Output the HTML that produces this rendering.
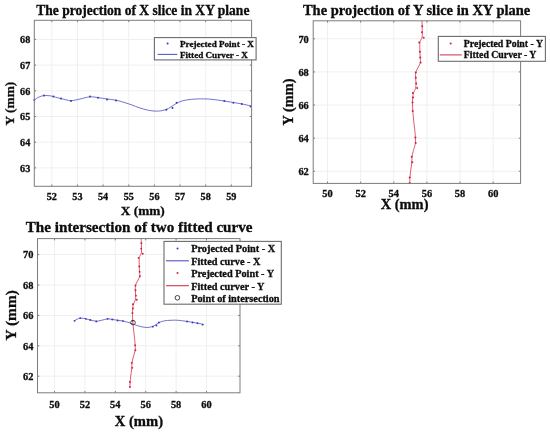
<!DOCTYPE html>
<html><head><meta charset="utf-8"><title>Curve projections</title>
<style>html,body{margin:0;padding:0;background:#fff;overflow:hidden}svg{display:block}text{font-family:'Liberation Serif','Times New Roman',serif;font-weight:bold;fill:#0c0c0c;stroke:#0c0c0c;stroke-width:0.3px;paint-order:stroke}</style>
</head><body>
<svg width="550" height="433" viewBox="0 0 550 433">
<rect width="550" height="433" fill="#fff"/>
<rect x="34.30" y="20.30" width="217.30" height="166.00" fill="#fff" stroke="none"/>
<path d="M51.80,20.30V186.30M77.45,20.30V186.30M103.10,20.30V186.30M128.75,20.30V186.30M154.40,20.30V186.30M180.05,20.30V186.30M205.70,20.30V186.30M231.35,20.30V186.30M34.30,167.90H251.60M34.30,142.20H251.60M34.30,116.50H251.60M34.30,90.80H251.60M34.30,65.10H251.60M34.30,39.40H251.60" stroke="#efefef" stroke-width="1" fill="none"/>
<clipPath id="c1"><rect x="34.30" y="20.30" width="217.30" height="166.00"/></clipPath>
<g clip-path="url(#c1)">
<path d="M34.30,100.00 C35.08,99.50 37.38,97.73 39.00,97.00 C40.62,96.27 42.17,95.80 44.00,95.60 C45.83,95.40 48.33,95.60 50.00,95.80 C51.67,96.00 52.17,96.33 54.00,96.80 C55.83,97.27 58.17,97.97 61.00,98.60 C63.83,99.23 67.83,100.53 71.00,100.60 C74.17,100.67 76.83,99.63 80.00,99.00 C83.17,98.37 87.00,97.03 90.00,96.80 C93.00,96.57 95.17,97.23 98.00,97.60 C100.83,97.97 104.00,98.57 107.00,99.00 C110.00,99.43 113.17,99.63 116.00,100.20 C118.83,100.77 121.33,101.60 124.00,102.40 C126.67,103.20 129.50,104.12 132.00,105.00 C134.50,105.88 136.30,106.83 139.00,107.70 C141.70,108.57 145.53,109.63 148.20,110.20 C150.87,110.77 152.73,111.02 155.00,111.10 C157.27,111.18 159.53,111.15 161.80,110.70 C164.07,110.25 166.32,109.53 168.60,108.40 C170.88,107.27 173.22,105.15 175.50,103.90 C177.78,102.65 179.65,101.67 182.30,100.90 C184.95,100.13 188.37,99.63 191.40,99.30 C194.43,98.97 197.48,98.93 200.50,98.90 C203.52,98.87 206.10,98.83 209.50,99.10 C212.90,99.37 217.10,99.97 220.90,100.50 C224.70,101.03 228.52,101.67 232.30,102.30 C236.08,102.93 240.38,103.67 243.60,104.30 C246.82,104.93 250.27,105.80 251.60,106.10" fill="none" stroke="#5a5ac6" stroke-width="0.85"/>
</g>
<circle cx="34.30" cy="100.00" r="1.00" fill="#3a3ac0"/>
<circle cx="44.00" cy="95.40" r="1.00" fill="#3a3ac0"/>
<circle cx="53.40" cy="96.60" r="1.00" fill="#3a3ac0"/>
<circle cx="61.00" cy="98.60" r="1.00" fill="#3a3ac0"/>
<circle cx="71.00" cy="101.00" r="1.00" fill="#3a3ac0"/>
<circle cx="90.00" cy="96.60" r="1.00" fill="#3a3ac0"/>
<circle cx="98.00" cy="97.80" r="1.00" fill="#3a3ac0"/>
<circle cx="107.00" cy="99.40" r="1.00" fill="#3a3ac0"/>
<circle cx="116.00" cy="100.40" r="1.00" fill="#3a3ac0"/>
<circle cx="166.40" cy="109.80" r="1.00" fill="#3a3ac0"/>
<circle cx="172.50" cy="108.00" r="1.00" fill="#3a3ac0"/>
<circle cx="176.60" cy="102.70" r="1.00" fill="#3a3ac0"/>
<circle cx="224.30" cy="101.10" r="1.00" fill="#3a3ac0"/>
<circle cx="233.40" cy="102.70" r="1.00" fill="#3a3ac0"/>
<circle cx="241.80" cy="104.10" r="1.00" fill="#3a3ac0"/>
<circle cx="250.50" cy="106.40" r="1.00" fill="#3a3ac0"/>
<path d="M51.80,186.30v-1.80M51.80,20.30v1.80M77.45,186.30v-1.80M77.45,20.30v1.80M103.10,186.30v-1.80M103.10,20.30v1.80M128.75,186.30v-1.80M128.75,20.30v1.80M154.40,186.30v-1.80M154.40,20.30v1.80M180.05,186.30v-1.80M180.05,20.30v1.80M205.70,186.30v-1.80M205.70,20.30v1.80M231.35,186.30v-1.80M231.35,20.30v1.80M34.30,167.90h1.80M251.60,167.90h-1.80M34.30,142.20h1.80M251.60,142.20h-1.80M34.30,116.50h1.80M251.60,116.50h-1.80M34.30,90.80h1.80M251.60,90.80h-1.80M34.30,65.10h1.80M251.60,65.10h-1.80M34.30,39.40h1.80M251.60,39.40h-1.80" stroke="#7c7c7c" stroke-width="1" fill="none"/>
<rect x="34.30" y="20.30" width="217.30" height="166.00" fill="none" stroke="#7c7c7c" stroke-width="1"/>
<text x="51.80" y="199.70" font-size="10.20" text-anchor="middle">52</text>
<text x="77.45" y="199.70" font-size="10.20" text-anchor="middle">53</text>
<text x="103.10" y="199.70" font-size="10.20" text-anchor="middle">54</text>
<text x="128.75" y="199.70" font-size="10.20" text-anchor="middle">55</text>
<text x="154.40" y="199.70" font-size="10.20" text-anchor="middle">56</text>
<text x="180.05" y="199.70" font-size="10.20" text-anchor="middle">57</text>
<text x="205.70" y="199.70" font-size="10.20" text-anchor="middle">58</text>
<text x="231.35" y="199.70" font-size="10.20" text-anchor="middle">59</text>
<text x="30.30" y="171.67" font-size="10.20" text-anchor="end">63</text>
<text x="30.30" y="145.97" font-size="10.20" text-anchor="end">64</text>
<text x="30.30" y="120.27" font-size="10.20" text-anchor="end">65</text>
<text x="30.30" y="94.57" font-size="10.20" text-anchor="end">66</text>
<text x="30.30" y="68.87" font-size="10.20" text-anchor="end">67</text>
<text x="30.30" y="43.17" font-size="10.20" text-anchor="end">68</text>
<text x="36.20" y="14.60" font-size="13.80" text-anchor="start" textLength="213.2" lengthAdjust="spacingAndGlyphs">The projection of X slice in XY plane</text>
<text x="142.80" y="214.60" font-size="13.30" text-anchor="middle" >X (mm)</text>
<text transform="translate(13.70,103.60) rotate(-90)" font-size="13.40" text-anchor="middle">Y (mm)</text>
<rect x="154.4" y="37.6" width="101.7" height="22.3" fill="#fff" stroke="#6c6c6c" stroke-width="1.1"/>
<circle cx="167.6" cy="43.6" r="1.0" fill="#3a3ac0"/>
<path d="M157.6,54.4H177.3" stroke="#5a5ac6" stroke-width="1.1"/>
<text x="180.00" y="46.70" font-size="9.10" text-anchor="start" >Prejected Point - X</text>
<text x="180.00" y="57.70" font-size="9.10" text-anchor="start" >Fitted Curver - X</text>
<rect x="313.20" y="20.80" width="207.40" height="162.60" fill="#fff" stroke="none"/>
<path d="M327.50,20.80V183.40M360.64,20.80V183.40M393.78,20.80V183.40M426.92,20.80V183.40M460.06,20.80V183.40M493.20,20.80V183.40M313.20,171.28H520.60M313.20,138.16H520.60M313.20,105.04H520.60M313.20,71.92H520.60M313.20,38.80H520.60" stroke="#efefef" stroke-width="1" fill="none"/>
<path d="M422.00,20.80 C422.03,21.77 422.15,24.68 422.20,26.60 C422.25,28.52 422.30,30.57 422.30,32.30 C422.30,34.03 422.45,35.73 422.20,37.00 C421.95,38.27 421.18,38.95 420.80,39.90 C420.42,40.85 420.05,41.07 419.90,42.70 C419.75,44.33 419.85,47.18 419.90,49.70 C419.95,52.22 420.12,55.68 420.20,57.80 C420.28,59.92 420.75,60.78 420.40,62.40 C420.05,64.02 418.87,65.88 418.10,67.50 C417.33,69.12 416.22,70.47 415.80,72.10 C415.38,73.73 415.57,75.47 415.60,77.30 C415.63,79.13 416.00,81.27 416.00,83.10 C416.00,84.93 416.02,86.67 415.60,88.30 C415.18,89.93 413.98,91.27 413.50,92.90 C413.02,94.53 412.87,96.27 412.70,98.10 C412.53,99.93 412.48,101.75 412.50,103.90 C412.52,106.05 412.60,108.18 412.80,111.00 C413.00,113.82 413.35,117.43 413.70,120.80 C414.05,124.17 414.62,128.30 414.90,131.20 C415.18,134.10 415.32,136.17 415.40,138.20 C415.48,140.23 415.78,141.17 415.40,143.40 C415.02,145.63 413.67,149.28 413.10,151.60 C412.53,153.92 412.23,155.38 412.00,157.30 C411.77,159.22 411.93,160.78 411.70,163.10 C411.47,165.42 410.90,168.68 410.60,171.20 C410.30,173.72 410.05,176.17 409.90,178.20 C409.75,180.23 409.73,182.53 409.70,183.40" fill="none" stroke="#d63e55" stroke-width="0.85"/>
<circle cx="422.20" cy="26.30" r="1.00" fill="#d02038"/>
<circle cx="422.00" cy="32.30" r="1.00" fill="#d02038"/>
<circle cx="423.70" cy="37.80" r="1.00" fill="#d02038"/>
<circle cx="419.20" cy="42.40" r="1.00" fill="#d02038"/>
<circle cx="419.90" cy="51.80" r="1.00" fill="#d02038"/>
<circle cx="420.30" cy="57.50" r="1.00" fill="#d02038"/>
<circle cx="420.60" cy="62.40" r="1.00" fill="#d02038"/>
<circle cx="415.80" cy="72.50" r="1.00" fill="#d02038"/>
<circle cx="415.80" cy="77.70" r="1.00" fill="#d02038"/>
<circle cx="416.20" cy="83.50" r="1.00" fill="#d02038"/>
<circle cx="417.20" cy="88.00" r="1.00" fill="#d02038"/>
<circle cx="412.90" cy="92.90" r="1.00" fill="#d02038"/>
<circle cx="413.00" cy="97.60" r="1.00" fill="#d02038"/>
<circle cx="412.50" cy="102.50" r="1.00" fill="#d02038"/>
<circle cx="412.70" cy="111.00" r="1.00" fill="#d02038"/>
<circle cx="415.40" cy="137.60" r="1.00" fill="#d02038"/>
<circle cx="415.70" cy="143.00" r="1.00" fill="#d02038"/>
<circle cx="411.70" cy="156.80" r="1.00" fill="#d02038"/>
<circle cx="412.30" cy="162.20" r="1.00" fill="#d02038"/>
<circle cx="409.70" cy="177.60" r="1.00" fill="#d02038"/>
<circle cx="409.70" cy="183.00" r="1.00" fill="#d02038"/>
<path d="M327.50,183.40v-1.80M327.50,20.80v1.80M360.64,183.40v-1.80M360.64,20.80v1.80M393.78,183.40v-1.80M393.78,20.80v1.80M426.92,183.40v-1.80M426.92,20.80v1.80M460.06,183.40v-1.80M460.06,20.80v1.80M493.20,183.40v-1.80M493.20,20.80v1.80M313.20,171.28h1.80M520.60,171.28h-1.80M313.20,138.16h1.80M520.60,138.16h-1.80M313.20,105.04h1.80M520.60,105.04h-1.80M313.20,71.92h1.80M520.60,71.92h-1.80M313.20,38.80h1.80M520.60,38.80h-1.80" stroke="#7c7c7c" stroke-width="1" fill="none"/>
<rect x="313.20" y="20.80" width="207.40" height="162.60" fill="none" stroke="#7c7c7c" stroke-width="1"/>
<text x="327.50" y="197.10" font-size="10.40" text-anchor="middle">50</text>
<text x="360.64" y="197.10" font-size="10.40" text-anchor="middle">52</text>
<text x="393.78" y="197.10" font-size="10.40" text-anchor="middle">54</text>
<text x="426.92" y="197.10" font-size="10.40" text-anchor="middle">56</text>
<text x="460.06" y="197.10" font-size="10.40" text-anchor="middle">58</text>
<text x="493.20" y="197.10" font-size="10.40" text-anchor="middle">60</text>
<text x="308.80" y="175.12" font-size="10.40" text-anchor="end">62</text>
<text x="308.80" y="142.00" font-size="10.40" text-anchor="end">64</text>
<text x="308.80" y="108.88" font-size="10.40" text-anchor="end">66</text>
<text x="308.80" y="75.76" font-size="10.40" text-anchor="end">68</text>
<text x="308.80" y="42.64" font-size="10.40" text-anchor="end">70</text>
<text x="302.90" y="15.30" font-size="14.60" text-anchor="start" textLength="227.4" lengthAdjust="spacingAndGlyphs">The projection of Y slice in XY plane</text>
<text x="404.60" y="208.90" font-size="14.45" text-anchor="middle" >X (mm)</text>
<text transform="translate(293.00,102.00) rotate(-90)" font-size="14.40" text-anchor="middle">Y (mm)</text>
<rect x="438.3" y="36.4" width="107.1" height="24.9" fill="#fff" stroke="#6c6c6c" stroke-width="1.1"/>
<circle cx="450.7" cy="43.5" r="1.0" fill="#d02038"/>
<path d="M439.8,54.9H461.8" stroke="#d63e55" stroke-width="1.1"/>
<text x="463.80" y="47.00" font-size="9.80" text-anchor="start" >Prejected Point - Y</text>
<text x="463.80" y="58.20" font-size="9.80" text-anchor="start" >Fitted Curver - Y</text>
<rect x="37.50" y="238.60" width="202.50" height="154.20" fill="#fff" stroke="none"/>
<path d="M54.50,238.60V392.80M84.90,238.60V392.80M115.30,238.60V392.80M145.70,238.60V392.80M176.10,238.60V392.80M206.50,238.60V392.80M37.50,376.20H240.00M37.50,345.80H240.00M37.50,315.40H240.00M37.50,285.00H240.00M37.50,254.60H240.00" stroke="#efefef" stroke-width="1" fill="none"/>
<path d="M74.53,320.84 C74.99,320.55 76.36,319.50 77.31,319.07 C78.27,318.63 79.19,318.36 80.28,318.24 C81.36,318.12 82.85,318.24 83.83,318.36 C84.82,318.48 85.12,318.67 86.20,318.95 C87.29,319.22 88.67,319.64 90.35,320.01 C92.03,320.39 94.40,321.16 96.28,321.20 C98.15,321.24 99.73,320.62 101.61,320.25 C103.49,319.88 105.76,319.09 107.54,318.95 C109.31,318.81 110.60,319.20 112.28,319.42 C113.96,319.64 115.83,319.99 117.61,320.25 C119.39,320.51 121.27,320.62 122.94,320.96 C124.62,321.29 126.10,321.79 127.69,322.26 C129.27,322.73 130.94,323.28 132.43,323.80 C133.91,324.32 134.97,324.88 136.57,325.40 C138.17,325.91 140.45,326.54 142.03,326.87 C143.61,327.21 144.71,327.36 146.06,327.41 C147.40,327.46 148.74,327.44 150.09,327.17 C151.43,326.90 152.76,326.48 154.11,325.81 C155.47,325.14 156.85,323.89 158.20,323.15 C159.56,322.41 160.66,321.83 162.23,321.37 C163.80,320.92 165.83,320.62 167.63,320.43 C169.42,320.23 171.23,320.21 173.02,320.19 C174.81,320.17 176.34,320.15 178.35,320.31 C180.37,320.47 182.86,320.82 185.11,321.14 C187.36,321.45 189.62,321.83 191.86,322.20 C194.10,322.58 196.65,323.01 198.56,323.38 C200.47,323.76 202.51,324.27 203.30,324.45" fill="none" stroke="#5a5ac6" stroke-width="0.85"/>
<path d="M141.19,238.08 C141.22,238.97 141.32,241.64 141.37,243.40 C141.42,245.16 141.46,247.04 141.46,248.63 C141.46,250.22 141.60,251.79 141.37,252.95 C141.14,254.11 140.44,254.74 140.09,255.61 C139.73,256.48 139.40,256.68 139.26,258.18 C139.12,259.68 139.21,262.29 139.26,264.60 C139.31,266.91 139.46,270.10 139.54,272.04 C139.61,273.98 140.04,274.78 139.72,276.26 C139.40,277.75 138.31,279.46 137.61,280.94 C136.91,282.43 135.88,283.67 135.50,285.17 C135.12,286.66 135.29,288.26 135.32,289.94 C135.35,291.62 135.68,293.58 135.68,295.26 C135.68,296.94 135.70,298.54 135.32,300.03 C134.93,301.53 133.83,302.76 133.39,304.26 C132.95,305.76 132.81,307.35 132.66,309.03 C132.50,310.71 132.46,312.38 132.47,314.35 C132.49,316.33 132.56,318.29 132.75,320.87 C132.93,323.46 133.25,326.78 133.57,329.87 C133.89,332.96 134.41,336.75 134.67,339.41 C134.93,342.07 135.06,343.97 135.13,345.84 C135.21,347.70 135.48,348.56 135.13,350.61 C134.78,352.66 133.54,356.01 133.02,358.14 C132.50,360.26 132.23,361.61 132.01,363.37 C131.80,365.13 131.95,366.57 131.74,368.69 C131.52,370.82 131.00,373.82 130.73,376.13 C130.45,378.44 130.22,380.69 130.09,382.55 C129.95,384.42 129.93,386.53 129.90,387.32" fill="none" stroke="#d63e55" stroke-width="0.85"/>
<circle cx="74.53" cy="320.84" r="0.95" fill="#3a3ac0"/>
<circle cx="80.28" cy="318.12" r="0.95" fill="#3a3ac0"/>
<circle cx="85.85" cy="318.83" r="0.95" fill="#3a3ac0"/>
<circle cx="90.35" cy="320.01" r="0.95" fill="#3a3ac0"/>
<circle cx="96.28" cy="321.43" r="0.95" fill="#3a3ac0"/>
<circle cx="107.54" cy="318.83" r="0.95" fill="#3a3ac0"/>
<circle cx="112.28" cy="319.54" r="0.95" fill="#3a3ac0"/>
<circle cx="117.61" cy="320.49" r="0.95" fill="#3a3ac0"/>
<circle cx="122.94" cy="321.08" r="0.95" fill="#3a3ac0"/>
<circle cx="152.81" cy="326.64" r="0.95" fill="#3a3ac0"/>
<circle cx="156.43" cy="325.57" r="0.95" fill="#3a3ac0"/>
<circle cx="158.86" cy="322.44" r="0.95" fill="#3a3ac0"/>
<circle cx="187.12" cy="321.49" r="0.95" fill="#3a3ac0"/>
<circle cx="192.51" cy="322.44" r="0.95" fill="#3a3ac0"/>
<circle cx="197.49" cy="323.27" r="0.95" fill="#3a3ac0"/>
<circle cx="202.65" cy="324.63" r="0.95" fill="#3a3ac0"/>
<circle cx="141.37" cy="243.13" r="0.95" fill="#d02038"/>
<circle cx="141.19" cy="248.63" r="0.95" fill="#d02038"/>
<circle cx="142.75" cy="253.68" r="0.95" fill="#d02038"/>
<circle cx="138.62" cy="257.90" r="0.95" fill="#d02038"/>
<circle cx="139.26" cy="266.53" r="0.95" fill="#d02038"/>
<circle cx="139.63" cy="271.76" r="0.95" fill="#d02038"/>
<circle cx="139.90" cy="276.26" r="0.95" fill="#d02038"/>
<circle cx="135.50" cy="285.53" r="0.95" fill="#d02038"/>
<circle cx="135.50" cy="290.31" r="0.95" fill="#d02038"/>
<circle cx="135.87" cy="295.63" r="0.95" fill="#d02038"/>
<circle cx="136.78" cy="299.76" r="0.95" fill="#d02038"/>
<circle cx="132.84" cy="304.26" r="0.95" fill="#d02038"/>
<circle cx="132.93" cy="308.57" r="0.95" fill="#d02038"/>
<circle cx="132.47" cy="313.07" r="0.95" fill="#d02038"/>
<circle cx="132.66" cy="320.87" r="0.95" fill="#d02038"/>
<circle cx="135.13" cy="345.29" r="0.95" fill="#d02038"/>
<circle cx="135.41" cy="350.24" r="0.95" fill="#d02038"/>
<circle cx="131.74" cy="362.91" r="0.95" fill="#d02038"/>
<circle cx="132.29" cy="367.87" r="0.95" fill="#d02038"/>
<circle cx="129.90" cy="382.00" r="0.95" fill="#d02038"/>
<circle cx="129.90" cy="386.96" r="0.95" fill="#d02038"/>
<circle cx="133.0" cy="322.6" r="2.3" fill="none" stroke="#222" stroke-width="0.8"/>
<path d="M54.50,392.80v-1.80M54.50,238.60v1.80M84.90,392.80v-1.80M84.90,238.60v1.80M115.30,392.80v-1.80M115.30,238.60v1.80M145.70,392.80v-1.80M145.70,238.60v1.80M176.10,392.80v-1.80M176.10,238.60v1.80M206.50,392.80v-1.80M206.50,238.60v1.80M37.50,376.20h1.80M240.00,376.20h-1.80M37.50,345.80h1.80M240.00,345.80h-1.80M37.50,315.40h1.80M240.00,315.40h-1.80M37.50,285.00h1.80M240.00,285.00h-1.80M37.50,254.60h1.80M240.00,254.60h-1.80" stroke="#7c7c7c" stroke-width="1" fill="none"/>
<rect x="37.50" y="238.60" width="202.50" height="154.20" fill="none" stroke="#7c7c7c" stroke-width="1"/>
<text x="54.50" y="408.40" font-size="10.40" text-anchor="middle">50</text>
<text x="84.90" y="408.40" font-size="10.40" text-anchor="middle">52</text>
<text x="115.30" y="408.40" font-size="10.40" text-anchor="middle">54</text>
<text x="145.70" y="408.40" font-size="10.40" text-anchor="middle">56</text>
<text x="176.10" y="408.40" font-size="10.40" text-anchor="middle">58</text>
<text x="206.50" y="408.40" font-size="10.40" text-anchor="middle">60</text>
<text x="33.50" y="380.04" font-size="10.40" text-anchor="end">62</text>
<text x="33.50" y="349.64" font-size="10.40" text-anchor="end">64</text>
<text x="33.50" y="319.24" font-size="10.40" text-anchor="end">66</text>
<text x="33.50" y="288.84" font-size="10.40" text-anchor="end">68</text>
<text x="33.50" y="258.44" font-size="10.40" text-anchor="end">70</text>
<text x="25.70" y="231.80" font-size="14.60" text-anchor="start" textLength="226.9" lengthAdjust="spacingAndGlyphs">The intersection of two fitted curve</text>
<text x="138.90" y="425.50" font-size="14.60" text-anchor="middle" >X (mm)</text>
<text transform="translate(16.30,315.30) rotate(-90)" font-size="15.40" text-anchor="middle">Y (mm)</text>
<rect x="164" y="241.4" width="117.3" height="62.8" fill="#fff" stroke="#6c6c6c" stroke-width="1.1"/>
<circle cx="177.5" cy="248.4" r="1.0" fill="#3a3ac0"/>
<path d="M166,260.8H188.9" stroke="#5a5ac6" stroke-width="1.15"/>
<circle cx="177.5" cy="273" r="1.0" fill="#d02038"/>
<path d="M166,285.7H188.9" stroke="#d63e55" stroke-width="1.15"/>
<circle cx="177.4" cy="297.8" r="2.3" fill="none" stroke="#222" stroke-width="0.85"/>
<text x="191.20" y="252.30" font-size="10.28" text-anchor="start" >Projected Point - X</text>
<text x="191.20" y="264.83" font-size="10.28" text-anchor="start" >Fitted curve - X</text>
<text x="191.20" y="277.36" font-size="10.28" text-anchor="start" >Prejected Point - Y</text>
<text x="191.20" y="289.89" font-size="10.28" text-anchor="start" >Fitted curver - Y</text>
<text x="191.20" y="302.42" font-size="10.28" text-anchor="start" >Point of intersection</text>
</svg></body></html>
